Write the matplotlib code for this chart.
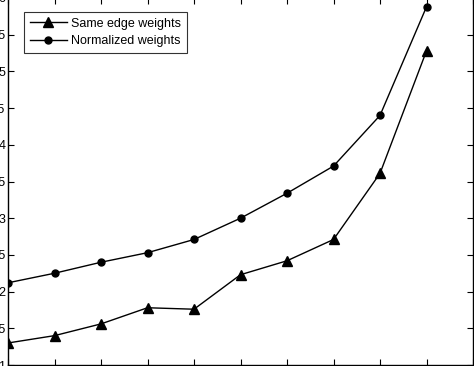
import numpy as np
import matplotlib
matplotlib.use("Agg")
import matplotlib.pyplot as plt

plt.rcParams["font.family"] = ["Liberation Sans", "DejaVu Sans"]

# ---------------------------------------------------------------------------
# data
# ---------------------------------------------------------------------------
x_vals = [1, 2, 3, 4, 5, 6, 7, 8, 9, 10]
same_edge = [1.30, 1.40, 1.56, 1.78, 1.76, 2.23, 2.42, 2.71, 3.61, 5.28]
normalized = [2.12, 2.25, 2.40, 2.53, 2.71, 3.00, 3.34, 3.71, 4.40, 5.88]
x_ticks = list(range(1, 12))
y_ticks = [1, 1.5, 2, 2.5, 3, 3.5, 4, 4.5, 5, 5.5, 6]
y_tick_labels = ["1", "1.5", "2", "2.5", "3", "3.5", "4", "4.5", "5", "5.5", "6"]

fig = plt.figure(figsize=(4.74, 3.66), dpi=100)
ax = fig.add_axes([8 / 474, 1 / 366, 465 / 474, 367 / 366])

ax.plot(x_vals, same_edge, color="black", lw=1.0, marker="^", ms=6.5,
        label="Same edge weights")
ax.plot(x_vals, normalized, color="black", lw=1.0, marker="o", ms=5,
        label="Normalized weights")

ax.set_xlim(1, 11)
ax.set_ylim(1, 6)
ax.set_xticks(x_ticks)
ax.set_xticklabels([])  # below the visible area in the reference
ax.set_yticks(y_ticks)
ax.set_yticklabels(y_tick_labels)
ax.tick_params(direction="in", length=4, width=0.8, top=True, right=True,
               labelsize=9, pad=2)
for s in ax.spines.values():
    s.set_linewidth(1.0)

leg = ax.legend(loc="upper left", bbox_to_anchor=(0.0344, 0.962), fontsize=9,
                frameon=True, fancybox=False, edgecolor="black",
                borderpad=0.45, handlelength=3.0, labelspacing=0.46,
                handletextpad=0.35, borderaxespad=0)
leg.get_frame().set_linewidth(0.8)

fig.savefig("out.png", dpi=100)
